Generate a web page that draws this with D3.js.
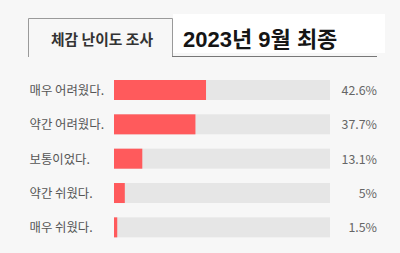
<!DOCTYPE html>
<html><head><meta charset="utf-8">
<script src="https://cdn.jsdelivr.net/npm/d3@7"></script>
<style>body{margin:0;background:#f7f7f7;}svg{display:block;}</style>
</head><body>
<script>
const categories = ["매우 어려웠다.", "약간 어려웠다.", "보통이었다.", "약간 쉬웠다.", "매우 쉬웠다."];
const values = [42.6, 37.7, 13.1, 5, 1.5];
const valueLabels = ["42.6%", "37.7%", "13.1%", "5%", "1.5%"];
const tabLabel = "체감 난이도 조사";
const titleText = "2023년 9월 최종";

const W = 400, H = 253;
const svg = d3.select("body").append("svg").attr("width", W).attr("height", H);
svg.append("rect").attr("width", W).attr("height", H).attr("fill", "#f7f7f7");

const font = "'Noto Sans CJK KR', 'Noto Sans', sans-serif";

// header
svg.append("rect").attr("x", 173).attr("y", 14).attr("width", 212).attr("height", 39).attr("fill", "#ffffff");
svg.append("path").attr("d", "M28.5,57 V18.5 H172.5 V57").attr("fill", "none").attr("stroke", "#9a9a9a").attr("stroke-width", 1);
svg.append("line").attr("x1", 172).attr("x2", 377).attr("y1", 56.5).attr("y2", 56.5).attr("stroke", "#777").attr("stroke-width", 1.2);
svg.append("text").attr("x", 102).attr("y", 44.5).attr("text-anchor", "middle")
  .attr("font-family", font).attr("font-weight", "bold").attr("font-size", 14.8).attr("fill", "#333").text(tabLabel);
svg.append("text").attr("x", 183).attr("y", 47)
  .attr("font-family", "'Liberation Sans', 'Noto Sans CJK KR', sans-serif").attr("font-weight", "bold").attr("font-size", 22).attr("fill", "#151515").text(titleText);

// bars
const x = d3.scaleLinear().domain([0, 100]).range([114, 330]);
const y = d3.scaleBand().domain(categories).range([80, 239]).paddingInner(0.37).paddingOuter(0);

const g = svg.append("g");
g.selectAll("rect.bg").data(categories).enter().append("rect").attr("class", "bg")
  .attr("x", x(0)).attr("y", d => y(d)).attr("width", x(100) - x(0)).attr("height", 20).attr("fill", "#e6e6e6");
g.selectAll("rect.val").data(values).enter().append("rect").attr("class", "val")
  .attr("x", x(0)).attr("y", (d, i) => y(categories[i])).attr("width", d => x(d) - x(0)).attr("height", 20).attr("fill", "#ff5a5c");
g.selectAll("text.cat").data(categories).enter().append("text").attr("class", "cat")
  .attr("x", 29.5).attr("y", d => y(d) + 15).attr("font-family", font).attr("font-size", 12.4).attr("fill", "#555").text(d => d);
g.selectAll("text.val").data(valueLabels).enter().append("text").attr("class", "val")
  .attr("x", 377).attr("y", (d, i) => y(categories[i]) + 15).attr("text-anchor", "end")
  .attr("font-family", font).attr("font-size", 12.4).attr("fill", "#666").text(d => d);
</script>
</body></html>
